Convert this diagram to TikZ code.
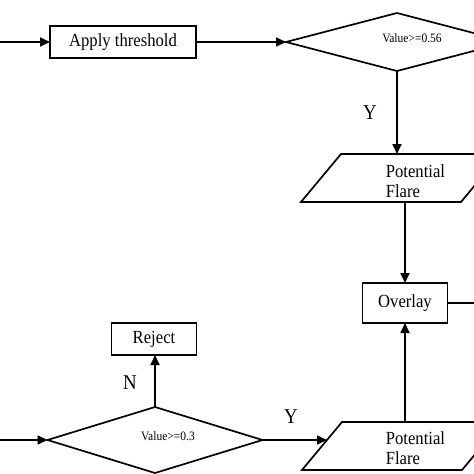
\documentclass[tikz,border=0pt]{standalone}
\usepackage{fontspec}
\setmainfont[FakeStretch=0.9]{Liberation Serif}
\usetikzlibrary{arrows.meta,shapes.geometric}
\begin{document}
\begin{tikzpicture}[x=1pt,y=-1pt,
 line width=1.7pt,
 arr/.style={-{Triangle[length=10pt,width=9pt]}},
 boxnode/.style={draw,rectangle,inner sep=0pt,outer sep=0pt,font=\fontsize{18.5}{20}\selectfont},
 dia/.style={draw,diamond,inner sep=0pt,outer sep=0pt},
 parpath/.style={draw,line join=miter},
 txt/.style={font=\fontsize{18.5}{20}\selectfont,inner sep=0pt,align=left,anchor=west},
 small/.style={font=\fontsize{12.8}{14}\selectfont,inner sep=0pt},
 lbl/.style={font=\fontsize{21}{22}\selectfont,inner sep=0pt}]
\useasboundingbox (0,0) rectangle (474,474);
\clip (0,0) rectangle (474,474);
% top row
\node[boxnode,minimum width=146pt,minimum height=32pt] (apply) at (123,42) {Apply threshold};
\node[dia,minimum width=222pt,minimum height=58pt] (d1) at (397,42) {};
\node[small] (d1t) at (412,38) {Value>=0.56};
\draw[parpath] (341,154) -- (501,154) -- (461,202) -- (301,202) -- cycle;
\node[txt] (p1t) at (385,181) {Potential\\Flare};
\node[boxnode,minimum width=85pt,minimum height=40pt] (ov) at (405,303) {Overlay};
% bottom row
\node[boxnode,minimum width=85pt,minimum height=32pt] (rej) at (154,339) {Reject};
\node[dia,minimum width=215pt,minimum height=66pt] (d2) at (155,440) {};
\node[small] (d2t) at (168,436) {Value>=0.3};
\draw[parpath] (342,422) -- (502,422) -- (462,470) -- (302,470) -- cycle;
\node[txt] (p2t) at (385,448) {Potential\\Flare};
% labels
\node[lbl] (y1) at (370,113) {Y};
\node[lbl] (n2) at (130,383) {N};
\node[lbl] (y2) at (291,417) {Y};
% connector ends on the parallelograms and at the picture edge
\coordinate (in1) at (0,42);
\coordinate (in2) at (0,440);
\coordinate (out1) at (474,303);
\coordinate (p1top) at (397,154);
\coordinate (p1bot) at (405,202);
\coordinate (p2left) at (327,440);
\coordinate (p2top) at (405,422);
% connectors
\draw[arr] (in1) -- (apply.west);
\draw[arr] (apply.east) -- (d1.west);
\draw[arr] (d1.south) -- (p1top);
\draw[arr] (p1bot) -- (ov.north);
\draw (ov.east) -- (out1);
\draw[arr] (in2) -- (d2.west);
\draw[arr] (d2.north) -- (d2.north |- rej.south);
\draw[arr] (d2.east) -- (p2left);
\draw[arr] (p2top) -- (ov.south);
\end{tikzpicture}
\end{document}
